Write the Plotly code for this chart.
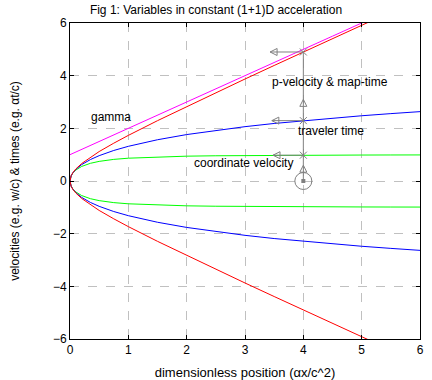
import plotly.graph_objects as go

# dimensionless position (alpha x / c^2)
pos = [0, 0.005, 0.02, 0.05, 0.1, 0.2, 0.35, 0.5, 0.75, 1, 1.5, 2, 2.5, 3, 3.5,
       4, 4.5, 5, 5.5, 6]
# proper velocity / map-time (red)
p_velocity = [0, 0.100, 0.201, 0.320, 0.458, 0.663, 0.907, 1.118, 1.436, 1.732,
              2.291, 2.828, 3.354, 3.873, 4.387, 4.899, 5.408, 5.916, 6.423, 6.928]
# gamma (magenta)
gamma = [1, 1.005, 1.02, 1.05, 1.1, 1.2, 1.35, 1.5, 1.75, 2, 2.5, 3, 3.5, 4, 4.5,
         5, 5.5, 6, 6.5, 7]
# traveler time (blue)
trav_time = [0, 0.100, 0.200, 0.315, 0.443, 0.622, 0.814, 0.962, 1.159, 1.317,
             1.567, 1.763, 1.925, 2.063, 2.185, 2.292, 2.390, 2.478, 2.559, 2.634]
# coordinate velocity (green)
coord_vel = [0, 0.0995, 0.197, 0.305, 0.417, 0.553, 0.672, 0.745, 0.821, 0.866,
             0.916, 0.943, 0.958, 0.968, 0.975, 0.980, 0.983, 0.986, 0.988, 0.990]

# gray construction at x = 4
mark_x = 4
mark_levels = [4.899, 2.292, 0.980]
arrow_tail_x = [3.43, 3.46, 3.48]
up_arrow_y = [3.1, 0.6]

labels = ["gamma", "p-velocity & map-time", "traveler time", "coordinate velocity"]
label_x = [0.33, 3.42, 3.88, 2.09]
label_y = [2.42, 3.76, 1.9, 0.68]

gray = "#808080"
fig = go.Figure()


def neg(vals):
    return [-v for v in vals]


for vals, col in [(coord_vel, "#00ff00"), (trav_time, "#0000ff")]:
    fig.add_trace(go.Scatter(x=pos, y=vals, mode="lines", line=dict(color=col, width=1)))
    fig.add_trace(go.Scatter(x=pos, y=neg(vals), mode="lines", line=dict(color=col, width=1)))

fig.add_trace(go.Scatter(x=pos, y=gamma, mode="lines", line=dict(color="#ff00ff", width=1)))
fig.add_trace(go.Scatter(x=pos, y=p_velocity, mode="lines", line=dict(color="#ff0000", width=1)))
fig.add_trace(go.Scatter(x=pos, y=neg(p_velocity), mode="lines", line=dict(color="#ff0000", width=1)))

# vertical construction line
fig.add_trace(go.Scatter(x=[mark_x, mark_x], y=[0, mark_levels[0]], mode="lines",
                         line=dict(color=gray, width=1)))
# horizontal arrows pointing left
for lvl, tail in zip(mark_levels, arrow_tail_x):
    fig.add_trace(go.Scatter(x=[mark_x, tail], y=[lvl, lvl], mode="lines",
                             line=dict(color=gray, width=1)))
fig.add_trace(go.Scatter(x=arrow_tail_x, y=mark_levels, mode="markers",
                         marker=dict(symbol="arrow-left-open", size=7, color=gray,
                                     line=dict(color=gray, width=1))))
fig.add_trace(go.Scatter(x=[mark_x] * len(up_arrow_y), y=up_arrow_y, mode="markers",
                         marker=dict(symbol="arrow-up-open", size=7, color=gray,
                                     line=dict(color=gray, width=1))))
fig.add_trace(go.Scatter(x=[mark_x] * len(mark_levels), y=mark_levels, mode="markers",
                         marker=dict(symbol="x-thin-open", size=7, color=gray,
                                     line=dict(color=gray, width=1))))
fig.add_trace(go.Scatter(x=[mark_x], y=[0], mode="markers",
                         marker=dict(symbol="circle-open", size=17, color=gray,
                                     line=dict(color=gray, width=1))))
fig.add_trace(go.Scatter(x=[mark_x], y=[0], mode="markers",
                         marker=dict(symbol="square", size=4, color=gray)))

for txt, lx, ly in zip(labels, label_x, label_y):
    fig.add_annotation(x=lx, y=ly, text=txt, showarrow=False, xanchor="left",
                       font=dict(size=12, color="black"))

axis_style = dict(
    showline=True, linecolor="black", linewidth=1, mirror="ticks",
    ticks="inside", ticklen=4, tickcolor="black", automargin=False,
    showgrid=True, gridcolor="#c0c0c0", griddash="dash", gridwidth=1,
    zeroline=False, tickfont=dict(size=12, color="black"),
)
fig.update_xaxes(range=[0, 6], dtick=1, **axis_style,
                 title=dict(text="dimensionless position (αx/c^2)", standoff=12,
                            font=dict(size=13, color="black")))
fig.update_yaxes(range=[-6, 6], dtick=2, **axis_style,
                 title=dict(text="velocities (e.g. w/c) & times (e.g. αt/c)", standoff=30,
                            font=dict(size=12, color="black")))

fig.update_layout(
    width=432, height=380,
    margin=dict(l=70, r=12, t=23, b=41),
    showlegend=False,
    plot_bgcolor="white", paper_bgcolor="white",
    font=dict(family="Liberation Sans, Arial, sans-serif", size=12, color="black"),
    title=dict(text="Fig 1: Variables in constant (1+1)D acceleration",
               x=0.5, xanchor="center", y=0.986, yanchor="top",
               font=dict(size=12)),
)

fig.write_html("out.html", config={"displayModeBar": False},
               post_script="document.body.style.margin='0';")
